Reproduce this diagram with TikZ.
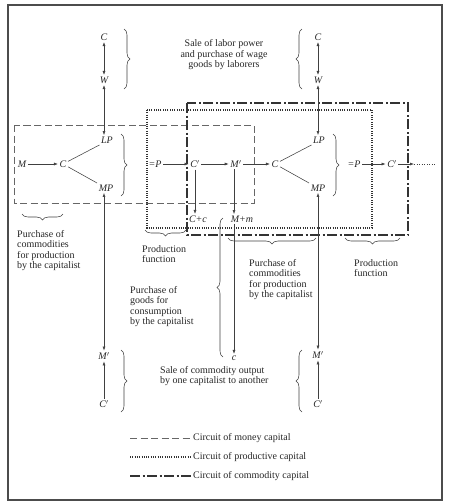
\documentclass[tikz,border=0pt]{standalone}
\usepackage{fontspec}
\setmainfont{Liberation Serif}
\usepackage{tikz}
\usetikzlibrary{positioning,arrows.meta,decorations.pathreplacing}

\begin{document}
\begin{tikzpicture}[
  x=1pt, y=-1pt,
  font=\fontsize{10}{10.5}\selectfont,
  every node/.style={text=black!85},
  lbl/.style={inner sep=1.5pt, font=\fontsize{10}{10.5}\selectfont\itshape},
  txt/.style={align=left, anchor=north west, inner sep=0pt},
  link/.style={draw=black!75, line width=0.55pt},
  arrow/.style={link, -{Latex[length=4pt,width=3pt]}},
  darrow/.style={link, {Latex[length=4pt,width=3pt]}-{Latex[length=4pt,width=3pt]}},
  curly/.style={link, decorate, decoration={brace, amplitude=6pt}},
  money/.style={draw=black!60, line width=0.7pt, dash pattern=on 7pt off 3.5pt},
  productive/.style={draw=black!80, line width=1.1pt, dash pattern=on 1pt off 1.3pt},
  commodity/.style={draw=black!80, line width=1.3pt, dash pattern=on 10pt off 2.5pt on 2pt off 2.5pt}
]
\useasboundingbox (0,0) rectangle (450,504);
\draw[black!70, line width=1.6pt] (8,5) rectangle (442,500);

\draw[money] (14,125) rectangle (254,203);
\draw[productive] (147,110) rectangle (372,228);
\draw[commodity] (187,103) rectangle (408,235);

\node[lbl] (cTopA) at (104,37) {C};
\node[lbl] (wA) at (104,80) {W};
\node[lbl] (cTopB) at (318,37) {C};
\node[lbl] (wB) at (318,80) {W};
\node[align=center, inner sep=0pt] (tLabor) at (224,55) {Sale of labor power\\and purchase of wage\\goods by laborers};

\node[lbl] (mA) at (22,164) {M};
\node[lbl] (cA) at (63,164) {C};
\node[lbl] (lpA) at (107,140) {LP};
\node[lbl] (mpA) at (106,188) {MP};
\node[lbl] (pA) at (155,164) {=P};
\node[lbl] (cpA) at (195,164) {C$'$};
\node[lbl] (mprA) at (236,164) {M$'$};
\node[lbl] (cB) at (275,164) {C};
\node[lbl] (lpB) at (319,140) {LP};
\node[lbl] (mpB) at (318,188) {MP};
\node[lbl] (pB) at (354,164) {=P};
\node[lbl] (cpB) at (392,164) {C$'$};
\coordinate (tail) at (414,164);
\coordinate (tailEnd) at (436,164);

\node[lbl] (cc) at (198,219) {C+c};
\node[lbl] (mm) at (242,219) {M+m};
\node[lbl] (csm) at (234,358) {c};

\node[lbl] (mBotA) at (104,356) {M$'$};
\node[lbl] (cBotA) at (104,404) {C$'$};
\node[lbl] (mBotB) at (318,355) {M$'$};
\node[lbl] (cBotB) at (318,404) {C$'$};

\draw[darrow] (cTopA) -- (wA);
\draw[darrow] (cTopB) -- (wB);
\draw[darrow] (wA) -- (wA |- lpA.north);
\draw[darrow] (wB) -- (wB |- lpB.north);
\draw[arrow] (mA) -- (cA);
\draw[link] (cA) -- (lpA.south west);
\draw[link] (cA) -- (mpA.north west);
\draw[arrow] (pA) -- (cpA);
\draw[arrow] (cpA) -- (mprA);
\draw[arrow] (mprA) -- (cB);
\draw[link] (cB) -- (lpB.south west);
\draw[link] (cB) -- (mpB.north west);
\draw[arrow] (pB) -- (cpB);
\draw[arrow] (cpB) -- (tail);
\draw[link, dotted] (tail) -- (tailEnd);
\draw[arrow] (cpA.south) -- (cpA.south |- cc.north);
\draw[arrow] (mprA.south -| csm) -- (csm |- mm.north);
\draw[arrow] (mm.south -| csm) -- (csm);
\draw[darrow] (mpA.south -| mBotA) -- (mBotA);
\draw[darrow] (mpB.south -| mBotB) -- (mBotB);
\draw[arrow] (cBotA) -- (mBotA);
\draw[arrow] (cBotB) -- (mBotB);

\draw[curly] (124,29) -- (124,89);
\draw[curly] (302,89) -- (302,29);
\draw[curly] (121,134) -- (121,196);
\draw[curly] (333,134) -- (333,196);
\draw[curly] (63,214) -- (22,214);
\draw[curly] (186,230) -- (145,230);
\draw[curly] (316,238) -- (228,238);
\draw[curly] (400,238) -- (345,238);
\draw[curly] (223,357) -- (223,218);
\draw[curly] (121,350) -- (121,412);
\draw[curly] (302,412) -- (302,350);

\node[txt] (tBuyA) at (17,230) {Purchase of\\commodities\\for production\\by the capitalist};
\node[txt] (tProdA) at (142,245) {Production\\function};
\node[txt] (tCons) at (130,286) {Purchase of\\goods for\\consumption\\by the capitalist};
\node[txt] (tBuyB) at (249,259) {Purchase of\\commodities\\for production\\by the capitalist};
\node[txt] (tProdB) at (354,259) {Production\\function};
\node[txt] (tSale) at (160,366) {Sale of commodity output\\by one capitalist to another};

\node[txt, anchor=west] (lgMoney) at (193,438) {Circuit of money capital};
\node[txt, anchor=west] (lgProd) at (193,457) {Circuit of productive capital};
\node[txt, anchor=west] (lgComm) at (193,476) {Circuit of commodity capital};
\draw[money] (130,438) -- ([xshift=-2pt]lgMoney.west);
\draw[productive] (130,457) -- ([xshift=-2pt]lgProd.west);
\draw[commodity] (130,476) -- ([xshift=-2pt]lgComm.west);
\end{tikzpicture}
\end{document}
